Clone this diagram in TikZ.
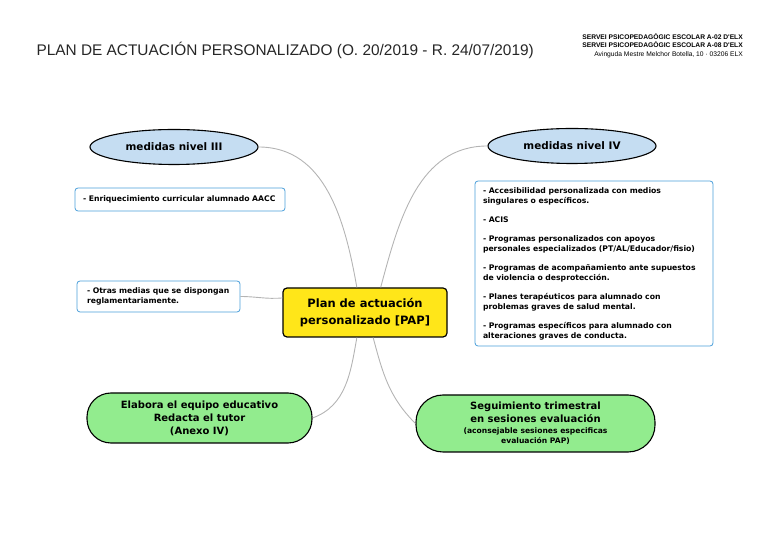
\documentclass[tikz,border=0pt]{standalone}
\usepackage{fontspec}
\setmainfont{DejaVu Sans}
\newfontfamily\titlefont{Liberation Sans}
\usetikzlibrary{shapes.geometric}

\definecolor{ovalblue}{HTML}{C5DDF2}
\definecolor{edgeblue}{HTML}{4A9FDA}
\definecolor{papyellow}{HTML}{FFE619}
\definecolor{pillgreen}{HTML}{92EC8E}
\definecolor{linkgray}{HTML}{B4B4B4}

\begin{document}
\begin{tikzpicture}[x=1pt, y=1pt,
    nivel/.style={draw, ellipse, line width=1.1pt, fill=ovalblue, minimum width=168pt, minimum height=35pt, inner sep=0pt, font=\fontsize{10.4}{12}\selectfont\bfseries},
    note/.style={draw=edgeblue, line width=0.8pt, rounded corners=3pt, fill=white, inner ysep=0pt, align=left, font=\fontsize{7.7}{10}\selectfont\bfseries},
    pap/.style={draw, line width=1.2pt, rounded corners=4pt, fill=papyellow, minimum width=164pt, minimum height=49pt, inner sep=0pt, align=center, font=\fontsize{11.5}{17}\selectfont\bfseries},
    pill/.style={draw, line width=1.1pt, rounded corners=24pt, fill=pillgreen, inner sep=0pt, align=center, font=\fontsize{10}{13}\selectfont\bfseries},
    link/.style={draw=linkgray, line width=0.9pt}
]
\useasboundingbox (0,0) rectangle (768,543);

% titulo y cabecera
\node[anchor=west, font=\titlefont\fontsize{15.4}{17}\selectfont, text=black!85] (title) at (33,493)
  {PLAN DE ACTUACIÓN PERSONALIZADO (O. 20/2019 - R. 24/07/2019)};
\node[anchor=north east, align=right, inner sep=0pt, font=\titlefont\fontsize{6.7}{8.6}\selectfont] (servei) at (743,510)
  {\bfseries SERVEI PSICOPEDAGÒGIC ESCOLAR A-02 D'ELX\\
   \bfseries SERVEI PSICOPEDAGÒGIC ESCOLAR A-08 D'ELX\\
   Avinguda Mestre Melchor Botella, 10 · 03206 ELX};

% nodos
\node[pap] (pap) at (365,230.5) {Plan de actuación\\personalizado [PAP]};
\node[nivel] (niv3) at (174,396) {medidas nivel III};
\node[nivel] (niv4) at (572,397) {medidas nivel IV};
\node[note, minimum height=23pt, inner xsep=8pt, text width=194pt] (aacc) at (180,343.5)
  {\mbox{- Enriquecimiento curricular alumnado AACC}};
\node[note, minimum height=31pt, inner xsep=10pt, text width=143pt] (otras) at (158.5,246.5)
  {- Otras medias que se dispongan\\reglamentariamente.};
\node[note, minimum height=165pt, inner xsep=8pt, text width=222pt] (nivel4list) at (594,279.5)
  {- Accesibilidad personalizada con medios\\singulares o específicos.\\[9pt]
   - ACIS\\[9pt]
   - Programas personalizados con apoyos\\personales especializados (PT/AL/Educador/fisio)\\[9pt]
   - Programas de acompañamiento ante supuestos\\de violencia o desprotección.\\[9pt]
   - Planes terapéuticos para alumnado con\\problemas graves de salud mental.\\[9pt]
   - Programas específicos para alumnado con\\alteraciones graves de conducta.};
\node[pill, minimum width=225pt, minimum height=50pt] (elabora) at (199.5,125)
  {Elabora el equipo educativo\\Redacta el tutor\\(Anexo IV)};
\node[pill, minimum width=239pt, minimum height=57pt, rounded corners=27pt] (seguim) at (535.5,119.5)
  {Seguimiento trimestral\\en sesiones evaluación\\[-2pt]
   {\fontsize{7.6}{10}\selectfont (aconsejable sesiones especificas}\\[-3pt]
   {\fontsize{7.6}{10}\selectfont evaluación PAP)}};

% ramas
\draw[link] (pap.108) to[out=100, in=0] (niv3.east);
\draw[link] (pap.58) to[out=75, in=180] (niv4.west);
\draw[link] (pap.170) to[out=185, in=0] (otras.east);
\draw[link] (pap.252) to[out=-100, in=20] (elabora.east);
\draw[link] (pap.288) to[out=-75, in=135] (seguim.west);
\end{tikzpicture}
\end{document}
